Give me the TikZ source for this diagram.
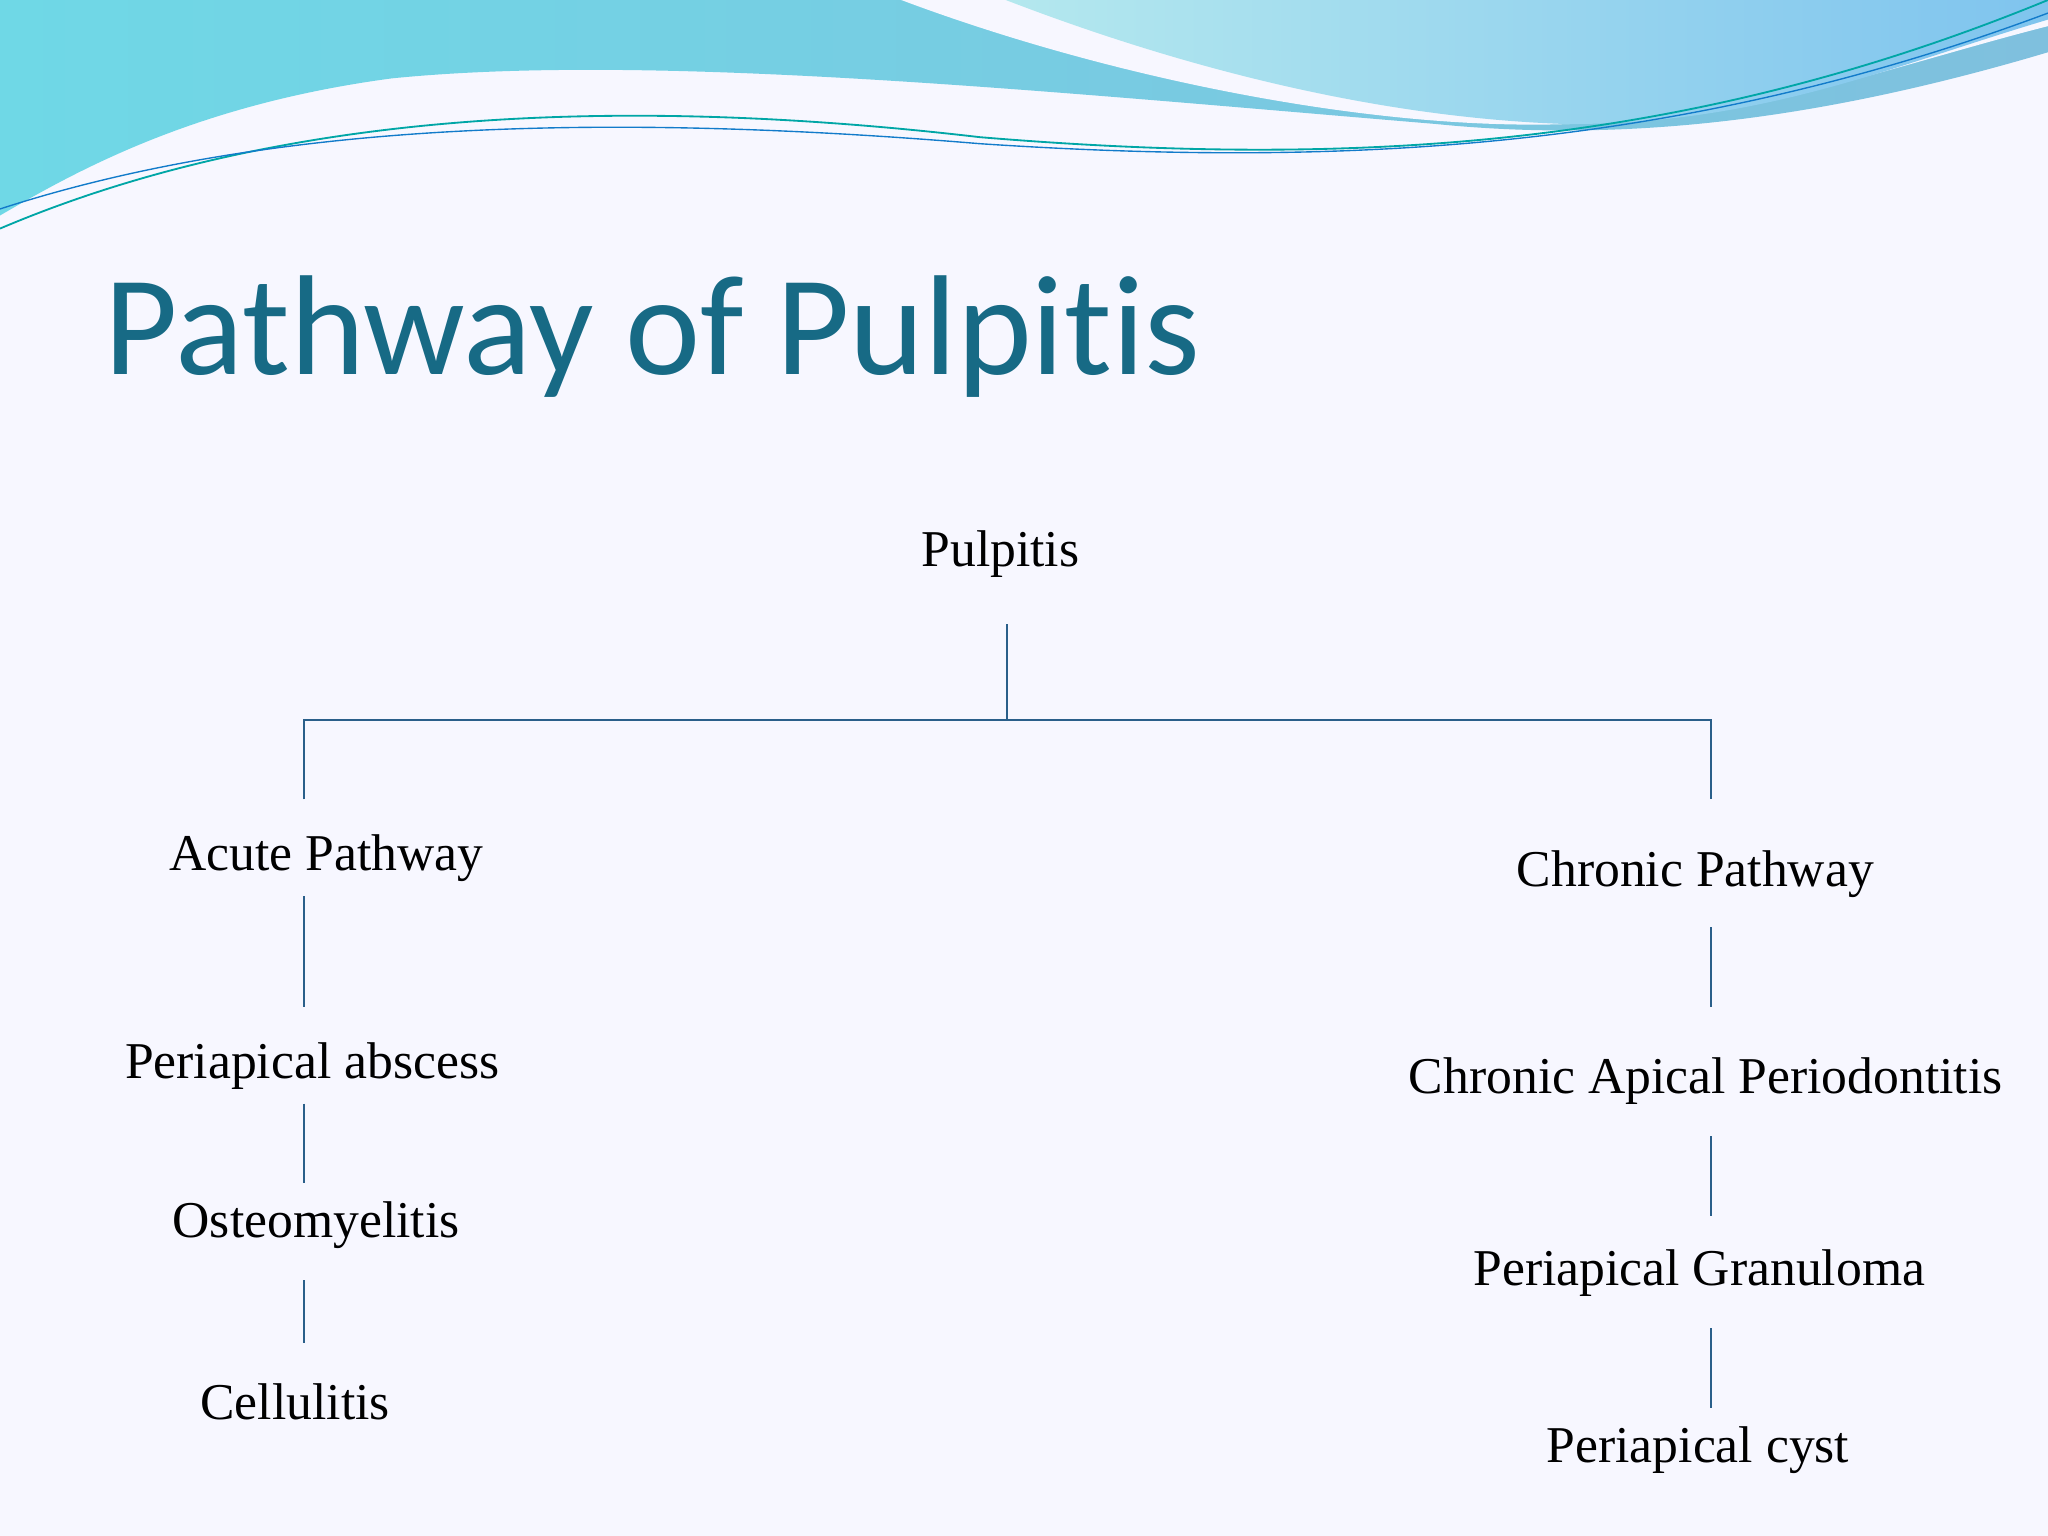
\documentclass[tikz,border=0pt]{standalone}
\usepackage{fontspec}
\setmainfont{Liberation Serif}
\newfontfamily\titlefont[Ligatures={NoCommon,NoRare,NoContextual}]{Carlito}
\begin{document}
\begin{tikzpicture}[x=0.02cm,y=-0.02cm,
  lbl/.style={font=\fontsize{22.5}{26}\selectfont, text=black, inner sep=0pt},
  con/.style={draw=linkblue, line width=1pt}]
\definecolor{linkblue}{HTML}{2A5F8A}
\definecolor{titleblue}{HTML}{176A85}
\definecolor{wave1}{HTML}{6FD8E6}
\definecolor{wave2}{HTML}{7FC0DE}
\definecolor{wave3}{HTML}{B4E8EE}
\definecolor{wave4}{HTML}{7FC4EE}
\fill[white!97!blue] (0,0) rectangle (1568,1176);
\useasboundingbox (0,0) rectangle (1568,1176);
% top waves
\shade[left color=wave1, right color=wave2]
  (0,0) -- (1568,0) -- (1568,40) .. controls (1400,90) and (1250,110) .. (1100,95)
  .. controls (800,70) and (500,40) .. (300,60) .. controls (150,80) and (60,130) .. (0,165) -- cycle;
\fill[white!97!blue] (690,0) .. controls (850,60) and (1050,100) .. (1200,95)
  .. controls (1350,90) and (1450,50) .. (1568,20) -- (1568,0) -- cycle;
\shade[left color=wave3, right color=wave4]
  (770,0) .. controls (900,50) and (1050,90) .. (1200,95) .. controls (1350,95) and (1450,50) .. (1568,15) -- (1568,0) -- cycle;
\draw[teal!70!cyan, line width=0.8pt] (0,175) .. controls (200,90) and (450,70) .. (750,105)
  .. controls (1050,130) and (1300,110) .. (1568,0);
\draw[cyan!60!blue, line width=0.6pt] (0,160) .. controls (200,95) and (450,85) .. (750,110)
  .. controls (1050,130) and (1300,110) .. (1568,10);
% title
\node[anchor=west, inner sep=0pt, text=titleblue, font=\titlefont\fontsize{62}{68}\selectfont] (title) at (80,258) {Pathway of Pulpitis};
% nodes
\node[lbl] (pul) at (766,424) {Pulpitis};
\node[lbl] (acu) at (250,657) {Acute Pathway};
\node[lbl] (pab) at (239,816) {Periapical abscess};
\node[lbl] (ost) at (242,938) {Osteomyelitis};
\node[lbl] (cel) at (226,1073) {Cellulitis};
\node[lbl] (chr) at (1298,669) {Chronic Pathway};
\node[lbl] (cap) at (1306,828) {Chronic Apical Periodontitis};
\node[lbl] (gra) at (1301,975) {Periapical Granuloma};
\node[lbl] (cys) at (1300,1110) {Periapical cyst};
% connectors
\coordinate (p1) at (771,478); \coordinate (p2) at (771,551);
\coordinate (hl) at (233,551); \coordinate (hr) at (1310,551);
\coordinate (l1) at (233,612); \coordinate (r1) at (1310,612);
\draw[con] (p1) -- (p2);
\draw[con] (l1) -- (hl) -- (hr) -- (r1);
\draw[con] (233,686) -- (233,771);
\draw[con] (233,845) -- (233,906);
\draw[con] (233,980) -- (233,1028);
\draw[con] (1310,710) -- (1310,771);
\draw[con] (1310,870) -- (1310,931);
\draw[con] (1310,1017) -- (1310,1078);
\end{tikzpicture}
\end{document}
